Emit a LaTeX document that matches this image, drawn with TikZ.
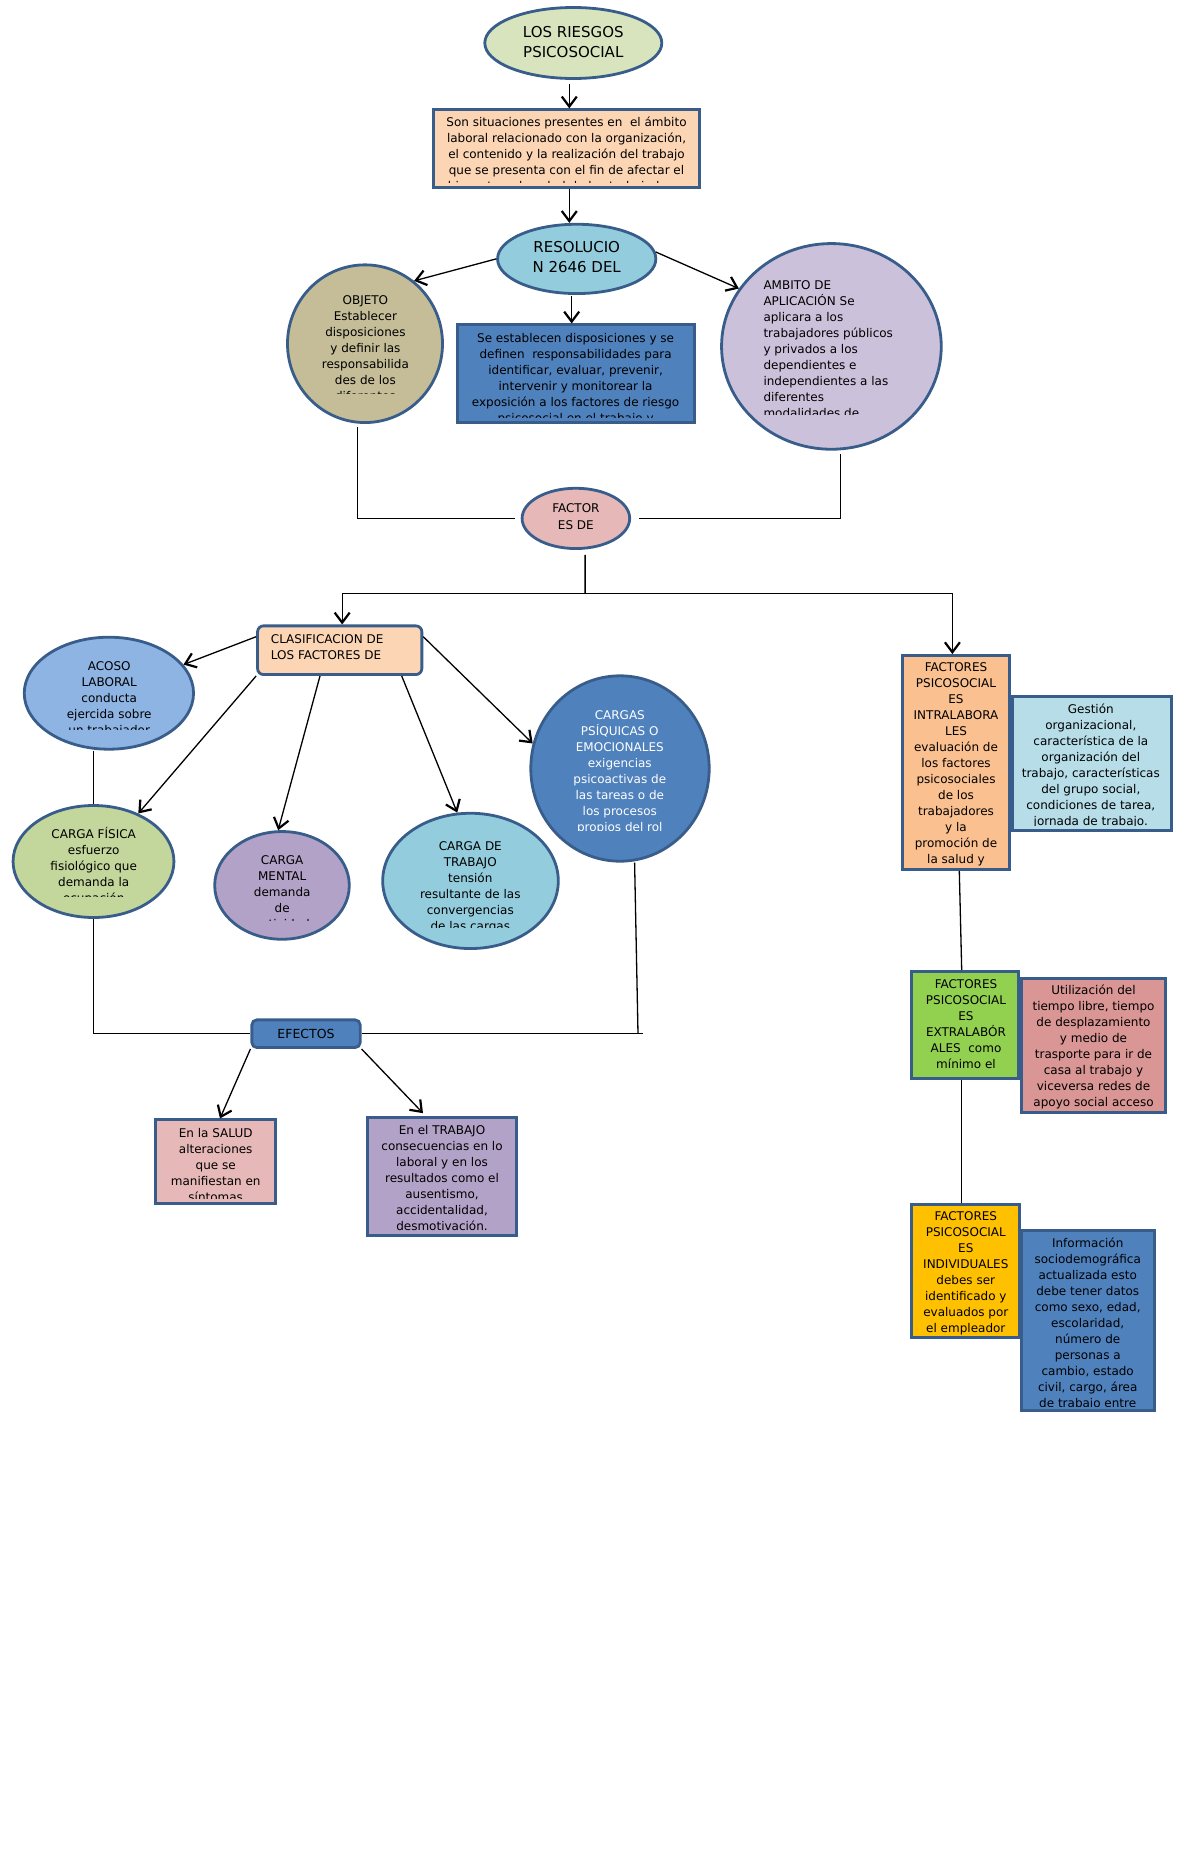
\documentclass[tikz,border=0pt]{standalone}
\usepackage{fontspec}
\setmainfont{DejaVu Sans}
\usetikzlibrary{shapes.geometric,arrows.meta,calc}
\definecolor{bord}{HTML}{385D8A}
\definecolor{cTitle}{HTML}{D7E4BD}
\definecolor{cPeach}{HTML}{FCD5B5}
\definecolor{cAqua}{HTML}{93CDDD}
\definecolor{cTan}{HTML}{C4BD97}
\definecolor{cBlue}{HTML}{4F81BD}
\definecolor{cLav}{HTML}{CCC1DA}
\definecolor{cRose}{HTML}{E6B9B8}
\definecolor{cSky}{HTML}{8EB4E3}
\definecolor{cOlive}{HTML}{C3D69B}
\definecolor{cPurple}{HTML}{B3A2C7}
\definecolor{cOrange}{HTML}{FAC090}
\definecolor{cIce}{HTML}{B7DEE8}
\definecolor{cGreen}{HTML}{92D050}
\definecolor{cRed}{HTML}{D99694}
\definecolor{cGold}{HTML}{FFC000}
\newcommand\cliptext[5]{\begin{scope}\clip (#2) rectangle (#3); \node[#4] (#1) {#5};\end{scope}}
\tikzset{
  shp/.style={draw=bord, line width=2.8pt, inner sep=0pt},
  ell/.style={shp, ellipse},
  box/.style={shp, rectangle},
  rbox/.style={shp, rectangle, rounded corners=6pt},
  txt/.style={font=\fontsize{12}{16}\selectfont, align=center, inner sep=0pt, anchor=north},
  ltxt/.style={font=\fontsize{12}{16}\selectfont, align=left, inner sep=0pt, anchor=north west},
  bigtxt/.style={font=\fontsize{15}{20}\selectfont, align=center, inner sep=0pt, anchor=north},
  conn/.style={draw=black, line width=1.3pt},
  arr/.style={conn, -{Straight Barb[length=10pt,width=15pt,line width=2.2pt]}},
}
\begin{document}
\begin{tikzpicture}[x=1pt,y=-1pt]
\useasboundingbox (0,0) rectangle (1200,1855);
% ---------- shapes ----------
\node[ell, fill=cTitle, minimum width=177pt, minimum height=71pt] (title) at (573.3,43) {};
\node[box, fill=cPeach, minimum width=266pt, minimum height=78pt] (box1) at (566.2,148.8) {};
\node[ell, fill=cAqua, minimum width=158.3pt, minimum height=69.3pt] (resol) at (576.7,258.9) {};
\node[ell, fill=cTan, minimum width=155pt, minimum height=157.7pt] (objeto) at (365,343.7) {};
\node[box, fill=cBlue, minimum width=237pt, minimum height=97.7pt] (blue) at (575.7,373.7) {};
\node[ell, fill=cLav, minimum width=219.7pt, minimum height=205.7pt] (ambito) at (831.4,346.4) {};
\node[ell, fill=cRose, minimum width=107.6pt, minimum height=60.3pt] (factor) at (575.9,518.4) {};
\node[rbox, fill=cPeach, minimum width=164.3pt, minimum height=48.7pt] (clas) at (339.7,650.2) {};
\node[ell, fill=cSky, minimum width=169.3pt, minimum height=112pt] (acoso) at (108.9,693.2) {};
\node[ell, fill=cOlive, minimum width=160.9pt, minimum height=112pt] (fisica) at (93.5,861.5) {};
\node[ell, fill=cPurple, minimum width=134.6pt, minimum height=107.7pt] (mental) at (282,885.4) {};
\node[ell, fill=cAqua, minimum width=175.6pt, minimum height=135.3pt] (ctrab) at (470.5,880.9) {};
\node[ell, fill=cBlue, minimum width=178.4pt, minimum height=185.4pt] (psiq) at (620,768.5) {};
\node[rbox, rounded corners=5pt, fill=cBlue, minimum width=108.3pt, minimum height=27.7pt, font=\fontsize{12.5}{16}\selectfont] (efectos) at (306,1033.7) {EFECTOS};
\node[box, fill=cRose, minimum width=120pt, minimum height=83.7pt] (salud) at (215.5,1161.7) {};
\node[box, fill=cPurple, minimum width=149pt, minimum height=117.7pt] (trab) at (442,1176.4) {};
\node[box, fill=cOrange, minimum width=107pt, minimum height=214pt] (intra) at (955.7,762.5) {};
\node[box, fill=cIce, minimum width=159pt, minimum height=133.7pt] (gest) at (1091.7,763.4) {};
\node[box, fill=cGreen, minimum width=107pt, minimum height=107pt] (extra) at (965,1025) {};
\node[box, fill=cRed, minimum width=143.7pt, minimum height=134.3pt] (util) at (1093.4,1045.4) {};
\node[box, fill=cGold, minimum width=108pt, minimum height=133pt] (indiv) at (965.5,1271.3) {};
\node[box, fill=cBlue, minimum width=132.7pt, minimum height=179.4pt] (info) at (1087.9,1320.5) {};
% ---------- texts ----------
\node[bigtxt, at={(573.3,23.1)}] (t-title) {\strut LOS RIESGOS\\PSICOSOCIAL};
\cliptext{t-box1}{432,100}{700,182.3}{txt, at={(566.5,115)}}{\strut Son situaciones presentes en\ \ el ámbito\\laboral relacionado con la organización,\\el contenido y la realización del trabajo\\que se presenta con el fin de afectar el\\bienestar y la salud de los trabajadores}
\node[bigtxt, at={(576.7,238.7)}] (t-resol) {\strut RESOLUCIO\\N 2646 DEL};
\cliptext{t-objeto}{287,280}{443,393.5}{txt, at={(365.4,292.6)}}{\strut OBJETO\\Establecer\\disposiciones\\y definir las\\responsabilida\\des de los\\diferentes}
\cliptext{t-blue}{457,320}{694,417}{txt, at={(575.6,331)}}{\strut Se establecen disposiciones y se\\definen\ \ responsabilidades para\\identificar, evaluar, prevenir,\\intervenir y monitorear la\\exposición a los factores de riesgo\\psicosocial en el trabajo y}
\cliptext{t-ambito}{722,260}{942,414}{ltxt, at={(763.3,278.3)}}{\strut AMBITO DE\\APLICACIÓN Se\\aplicara a los\\trabajadores públicos\\y privados a los\\dependientes e\\independientes a las\\diferentes\\modalidades de}
\node[txt, font=\fontsize{12}{16.7}\selectfont, at={(575.9,501)}] (t-factor) {\strut FACTOR\\ES DE};
\node[ltxt, font=\fontsize{12}{16}\selectfont, at={(270.7,632.5)}] (t-clas) {\strut CLASIFICACION DE\\LOS FACTORES DE};
\cliptext{t-acoso}{24,640}{194,729.3}{txt, at={(109.2,659)}}{\strut ACOSO\\LABORAL\\conducta\\ejercida sobre\\un trabajador}
\cliptext{t-fisica}{13,810}{174,896.5}{txt, at={(93.7,827.3)}}{\strut CARGA FÍSICA\\esfuerzo\\fisiológico que\\demanda la\\ocupación}
\cliptext{t-mental}{214,835}{350,920.5}{txt, at={(282.2,853.3)}}{\strut CARGA\\MENTAL\\demanda\\de\\actividad}
\cliptext{t-ctrab}{382,820}{559,927}{txt, at={(470.3,839)}}{\strut CARGA DE\\TRABAJO\\tensión\\resultante de las\\convergencias\\de las cargas}
\cliptext{t-psiq}{530,690}{710,830}{txt, text=white, at={(619.8,708.3)}}{\strut CARGAS\\PSÍQUICAS O\\EMOCIONALES\\exigencias\\psicoactivas de\\las tareas o de\\los procesos\\propios del rol}
\cliptext{t-salud}{155,1119}{276,1198.5}{txt, at={(215.7,1125.6)}}{\strut En la SALUD\\alteraciones\\que se\\manifiestan en\\síntomas}
\cliptext{t-trab}{367,1117}{517,1231}{txt, at={(442,1123.3)}}{\strut En el TRABAJO\\consecuencias en lo\\laboral y en los\\resultados como el\\ausentismo,\\accidentalidad,\\desmotivación.}
\cliptext{t-intra}{902,655}{1009,866}{txt, at={(956,660)}}{\strut FACTORES\\PSICOSOCIAL\\ES\\INTRALABORA\\LES\\evaluación de\\los factores\\psicosociales\\de los\\trabajadores\\y la\\promoción de\\la salud y}
\cliptext{t-gest}{1012,696}{1171,825.5}{txt, at={(1090.8,701.6)}}{\strut Gestión\\organizacional,\\característica de la\\organización del\\trabajo, características\\del grupo social,\\condiciones de tarea,\\jornada de trabajo.}
\node[txt, at={(966,976.6)}] (t-extra) {\strut FACTORES\\PSICOSOCIAL\\ES\\EXTRALABÓR\\ALES\ \ como\\mínimo el};
\node[txt, at={(1093.5,983.3)}] (t-util) {\strut Utilización del\\tiempo libre, tiempo\\de desplazamiento\\y medio de\\trasporte para ir de\\casa al trabajo y\\viceversa redes de\\apoyo social acceso};
\cliptext{t-indiv}{911,1204}{1020,1334}{txt, at={(965.8,1209)}}{\strut FACTORES\\PSICOSOCIAL\\ES\\INDIVIDUALES\\debes ser\\identificado y\\evaluados por\\el empleador}
\cliptext{t-info}{1021,1230}{1155,1406.5}{txt, at={(1087.7,1235.6)}}{\strut Información\\sociodemográfica\\actualizada esto\\debe tener datos\\como sexo, edad,\\escolaridad,\\número de\\personas a\\cambio, estado\\civil, cargo, área\\de trabajo entre}
% ---------- connectors ----------
\draw[arr] ([xshift=-4pt,yshift=-4pt]title.south) -- ([xshift=3.1pt]box1.north);
\draw[arr] ([xshift=3.1pt]box1.south) -- ([xshift=-7.4pt]resol.north);
\draw[arr] (resol.west) -- (objeto.52);
\draw[arr] (resol.5) -- (ambito.148);
\draw[arr] ([xshift=-5pt,yshift=-1pt]resol.south) -- ([xshift=-4pt]blue.north);
\draw[conn] ([xshift=-7.3pt,yshift=-3pt]objeto.south) |- ([xshift=-6pt]factor.west);
\draw[conn] ([xshift=8pt]factor.east) -| ([xshift=8.8pt,yshift=-3pt]ambito.south);
\coordinate (fj) at (585.1,593.3);
\draw[conn] ([xshift=9.2pt,yshift=-5pt]factor.south) -- (fj);
\draw[arr] (fj) -| ([xshift=2.5pt]clas.north);
\draw[arr] (fj) -| ([xshift=-3.3pt]intra.north);
\draw[arr] ([yshift=13.5pt]clas.west) -- (acoso.21);
\draw[arr] (clas.south west) -- (fisica.47);
\draw[arr] ([xshift=-19.7pt]clas.south) -- (mental.94);
\draw[arr] ([xshift=62pt]clas.south) -- (ctrab.101);
\draw[arr] ([yshift=13.5pt]clas.east) -- (psiq.164);
\draw[conn] (acoso.south -| fisica.north) -- (fisica.north);
\draw[conn] (fisica.south) |- (efectos.west);
\draw[conn] ([xshift=14.6pt]psiq.south) -- ($(psiq.south |- efectos.east)+(18,0)$);
\draw[conn] (efectos.east) -- ($(psiq.south |- efectos.east)+(23,0)$);
\draw[arr] (efectos.south west) -- ([xshift=4.5pt]salud.north);
\draw[arr] (efectos.south east) -- ([xshift=-19pt,yshift=3pt]trab.north);
\draw[conn] ([xshift=3.6pt]intra.south) -- ([xshift=-3.3pt]extra.north);
\draw[conn] ([xshift=-3.3pt]extra.south) -- ([xshift=-3.8pt]indiv.north);
\end{tikzpicture}
\end{document}
